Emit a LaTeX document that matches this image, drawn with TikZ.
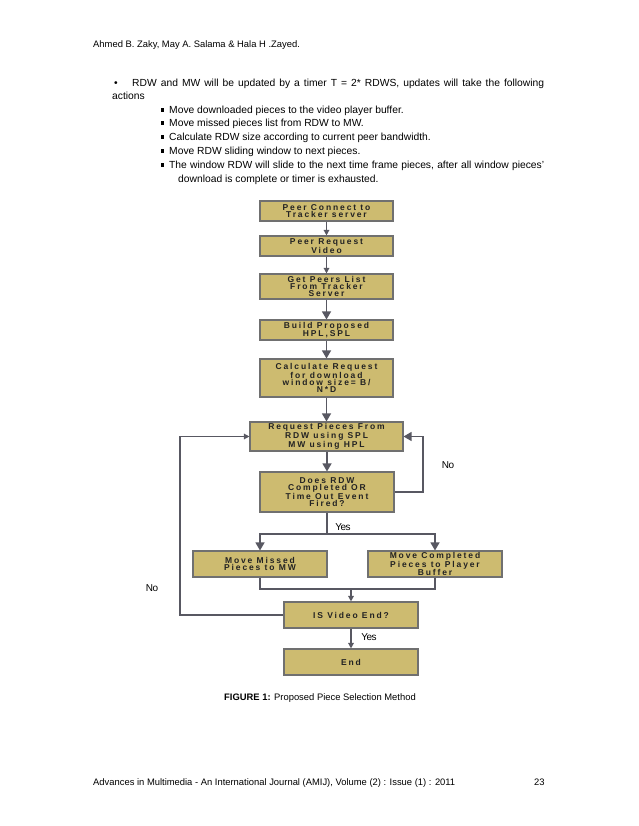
\documentclass[tikz,border=0pt]{standalone}
\usepackage{fontspec}
\setmainfont{Liberation Sans}
\newfontfamily\boxfont[LetterSpace=22]{Liberation Sans}
\newfontfamily\yesfont[LetterSpace=-6]{Liberation Sans}
\usetikzlibrary{arrows.meta}
\definecolor{boxfill}{RGB}{205,187,112}
\definecolor{boxline}{RGB}{112,112,112}
\definecolor{conn}{RGB}{88,88,98}
\definecolor{boxtext}{RGB}{35,35,35}
\begin{document}
\begin{tikzpicture}[x=1pt,y=-1pt,
  flowbox/.style={draw=boxline, line width=1.1pt, fill=boxfill, inner sep=0pt,
    align=center, text=boxtext, font=\boxfont\bfseries\fontsize{8.5}{7.2}\selectfont},
  conline/.style={draw=conn, line width=1.3pt},
  bigarrow/.style={conline, -{Triangle[width=9pt,length=8pt]}},
  smallarrow/.style={conline, -{Triangle[width=5.5pt,length=5.5pt]}},
  bodytext/.style={anchor=base west, inner sep=0pt, font=\fontsize{10.3}{12}\selectfont},
  smalltext/.style={anchor=base west, inner sep=0pt, font=\fontsize{9.4}{11}\selectfont},
  yn/.style={inner sep=0pt, font=\yesfont\fontsize{10}{12}\selectfont}
]
\useasboundingbox[fill=white] (0,0) rectangle (638,826);

% header and body text
\node[smalltext] (hdr) at (93,47.5) {Ahmed B. Zaky, May A. Salama \& Hala H .Zayed.};
\node[bodytext] (bul) at (114,86.5) {•};
\node[bodytext] (l1) at (132,86.5) {\makebox[412pt][s]{RDW and MW will be updated by a timer T = 2* RDWS, updates will take the following}};
\node[bodytext] (l2) at (112,99.5) {actions};
\foreach \yy/\txt [count=\i] in {113.5/{Move downloaded pieces to the video player buffer.},
  126.5/{Move missed pieces list from RDW to MW.},
  140.5/{Calculate RDW size according to current peer bandwidth.},
  154.5/{Move RDW sliding window to next pieces.}}{
  \node[bodytext] (sb\i) at (161,\yy) {\rule[1.8pt]{3.2pt}{3.2pt}};
  \node[bodytext] (si\i) at (169,\yy) {\txt};
}
\node[bodytext] (sb5) at (161,168.5) {\rule[1.8pt]{3.2pt}{3.2pt}};
\node[bodytext] (si5) at (169,168.5) {\makebox[375pt][s]{The window RDW will slide to the next time frame pieces, after all window pieces'}};
\node[bodytext] (si6) at (178,182.5) {download is complete or timer is exhausted.};

% flowchart boxes
\node[flowbox, minimum width=133pt, minimum height=20pt] (b1) at (326.5,211) {Peer Connect to\\Tracker server};
\node[flowbox, minimum width=133pt, minimum height=20pt] (b2) at (326.5,246) {Peer Request\\Video};
\node[flowbox, minimum width=133pt, minimum height=25pt] (b3) at (326.5,286.5) {Get Peers List\\From Tracker\\Server};
\node[flowbox, minimum width=133pt, minimum height=20pt] (b4) at (326.5,330) {Build Proposed\\HPL,SPL};
\node[flowbox, minimum width=133pt, minimum height=38pt] (b5) at (326.5,378) {Calculate Request\\for download\\window size= B/\\N*D};
\node[flowbox, minimum width=153pt, minimum height=29pt] (b6) at (326.5,436.5) {Request Pieces From\\RDW using SPL\\MW using HPL};
\node[flowbox, minimum width=134pt, minimum height=40pt] (b7) at (327,492) {Does RDW\\Completed OR\\Time Out Event\\Fired?};
\node[flowbox, minimum width=134pt, minimum height=26pt] (b8) at (260,564) {Move Missed\\Pieces to MW};
\node[flowbox, minimum width=134pt, minimum height=26pt] (b9) at (435,564) {Move Completed\\Pieces to Player\\Buffer};
\node[flowbox, minimum width=134pt, minimum height=26pt] (b10) at (351,615) {IS Video End?};
\node[flowbox, minimum width=134pt, minimum height=26pt] (b11) at (351,662) {End};

% helper coordinates
\coordinate (rl) at (423,0);
\coordinate (ll) at (180,0);
\coordinate (split) at (327,534);
\coordinate (merge) at (351,589);

% connectors
\draw[smallarrow] (b1) -- (b2);
\draw[smallarrow] (b2) -- (b3);
\draw[bigarrow] (b3) -- (b4);
\draw[bigarrow] (b4) -- (b5);
\draw[bigarrow] (b5) -- (b6);
\draw[bigarrow] (b6.south -| b7) -- (b7);
\draw[bigarrow] (b7.east) -| (rl |- b7.east) |- (b6.east);
\draw[conline] (b7.south) -- (split);
\draw[bigarrow] (split) -| (b8.north);
\draw[bigarrow] (split) -| (b9.north);
\draw[conline] (b8.south) |- (merge);
\draw[conline] (b9.south) |- (merge);
\draw[smallarrow] (merge) -- (b10.north);
\draw[smallarrow] (b10) -- (b11);
\draw[smallarrow] (b10.west) -| (ll |- b10.west) |- (b6.west);

% labels
\node[yn] (no1) at (448,465) {No};
\node[yn] (yes1) at (343,527) {Yes};
\node[yn] (yes2) at (369,637) {Yes};
\node[yn] (no2) at (152,588) {No};

% caption and footer
\node[smalltext] (cap) at (224,700.5) {\textbf{FIGURE 1:} Proposed Piece Selection Method};
\node[smalltext] (ftr) at (93,785.5) {Advances in Multimedia - An International Journal (AMIJ), Volume (2) : Issue (1) : 2011};
\node[smalltext] (pg) at (534,785.5) {23};
\end{tikzpicture}
\end{document}
